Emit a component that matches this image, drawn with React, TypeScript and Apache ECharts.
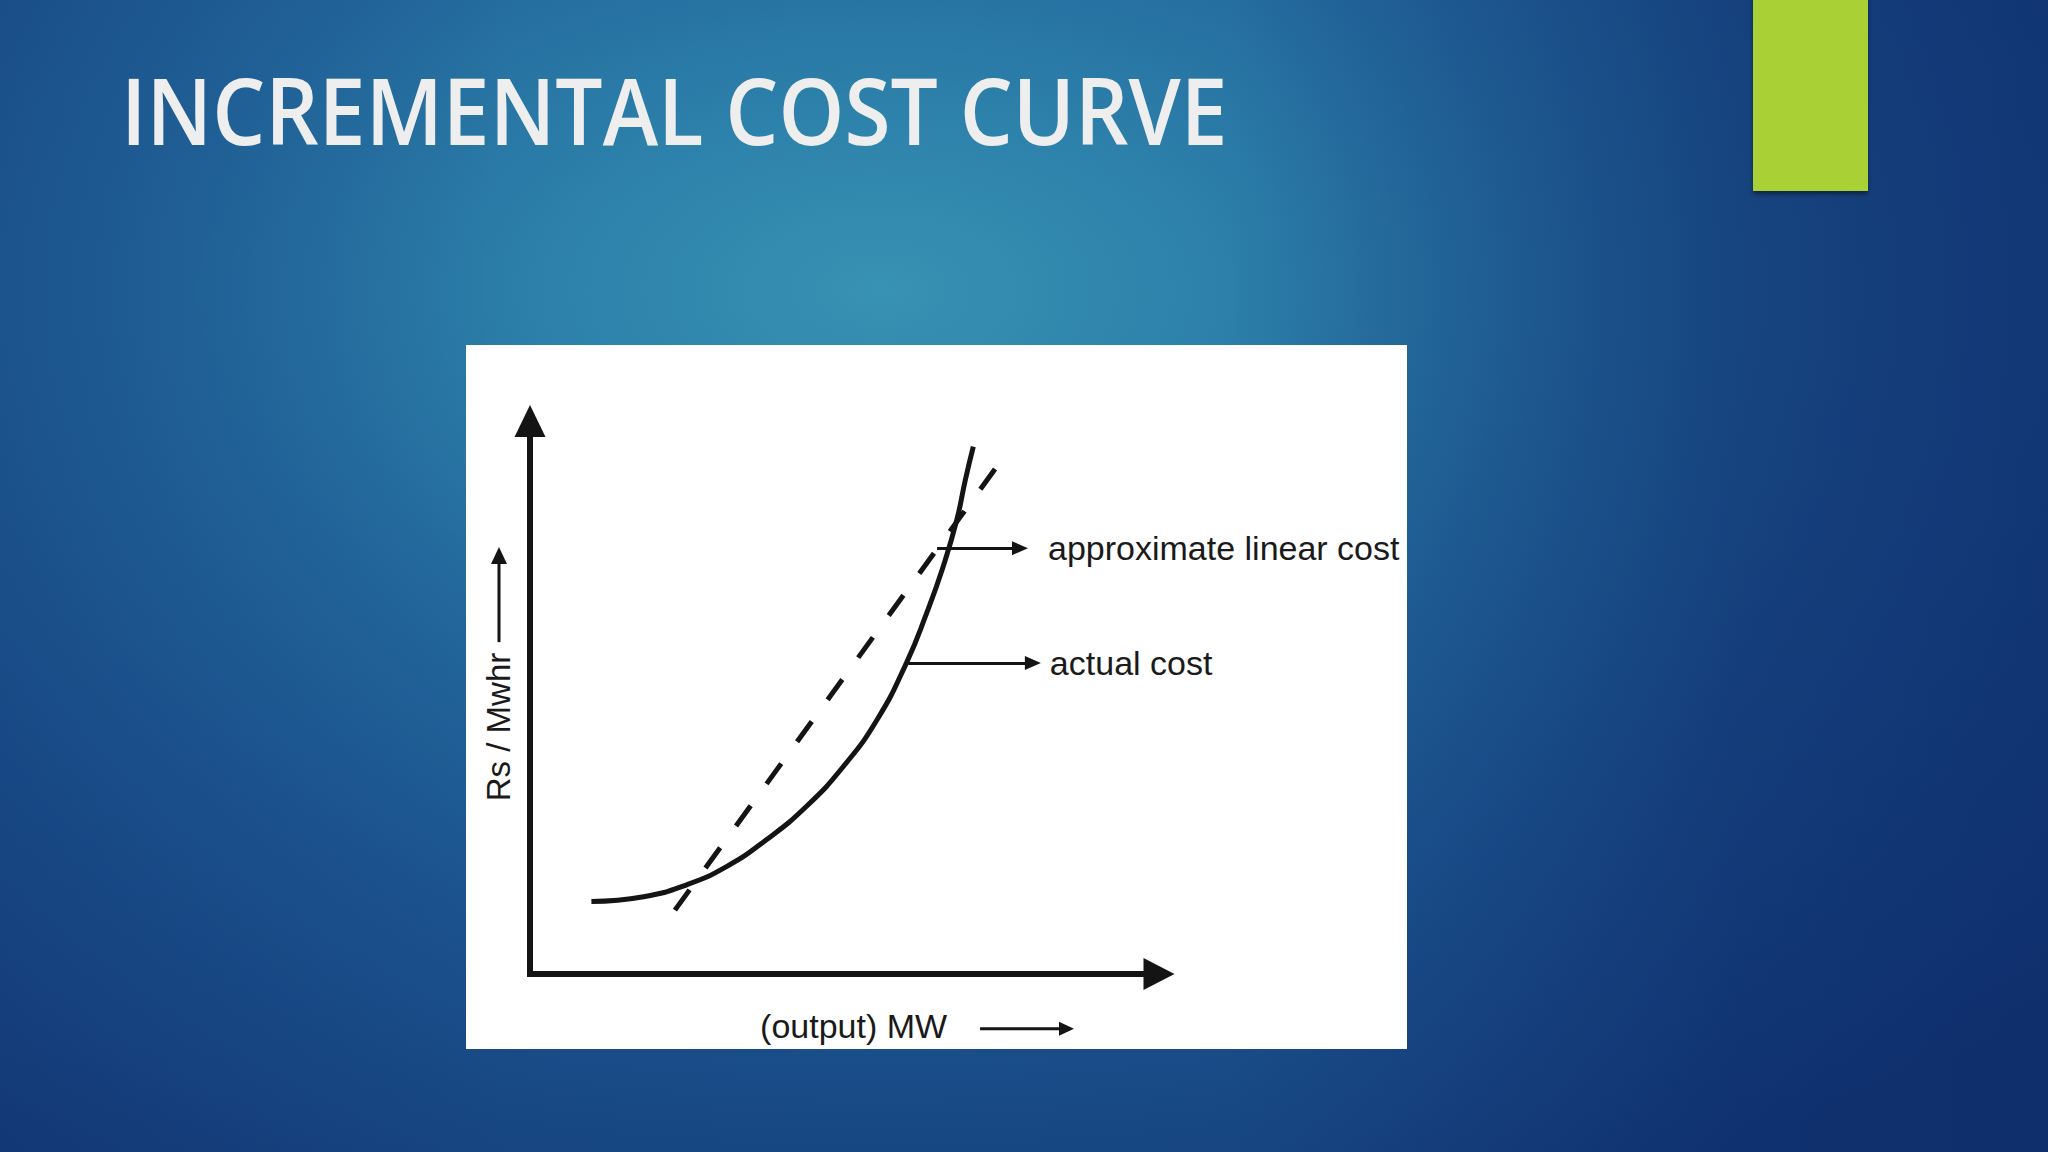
import React, { useEffect, useRef } from "react";
import * as echarts from "echarts";

// ---- data ----
const titleText = "INCREMENTAL COST CURVE";
const actualX = [10, 18.5, 25.5, 32, 38.5, 45, 51, 56.5, 61.3, 64.6, 67.3, 69.5, 70.9, 72.2];
const actualY = [13.5, 14.4, 16.6, 20, 25, 31.2, 38.6, 47.3, 57.9, 67.2, 75.9, 84.5, 92, 98.2];
const linearX = [23.6, 76.8];
const linearY = [11.9, 95.7];
const labelNames = ["approximate linear cost", "actual cost"];
const labelArrowX = [
  [66.3, 79.8],
  [61.6, 81.9],
];
const labelArrowY = [79.3, 57.9];
const yAxisTitle = "Rs / Mwhr";
const xAxisTitle = "(output) MW";

// annotation anchors in data units (outside the plot)
const Y_TITLE_AT = [-5.2, 46.0];
const Y_ARROW_X = -5.05;
const Y_ARROW_Y = [61.8, 79.5];
const X_TITLE_AT = [52.7, -9.7];
const X_ARROW_X = [73.3, 88.6];
const X_ARROW_Y = -10.2;

const INK = "#141414";
const FONT = "'Liberation Sans', Arial, sans-serif";
const TITLE_FONT = "600 92px 'Open Sans', sans-serif";
const TITLE_WIDTH = 1107;

function measure(text: string, font: string): number {
  const c = document.createElement("canvas").getContext("2d");
  if (!c) return TITLE_WIDTH;
  c.font = font;
  return c.measureText(text).width || TITLE_WIDTH;
}

export default function App() {
  const ref = useRef<HTMLDivElement>(null);

  useEffect(() => {
    document.body.style.margin = "0";
    document.body.style.overflow = "hidden";
    const chart = echarts.init(ref.current!, null, { renderer: "svg" });

    const axisCommon = {
      type: "value" as const,
      min: 0,
      max: 100,
      axisTick: { show: false },
      axisLabel: { show: false },
      splitLine: { show: false },
    };

    const titleScale = TITLE_WIDTH / measure(titleText, TITLE_FONT);

    const bg = [
      {
        type: "rect",
        z: -10,
        silent: true,
        shape: { x: 0, y: 0, width: 2048 / 1.4, height: 1152 },
        scaleX: 1.4,
        style: {
          fill: new echarts.graphic.RadialGradient(0.43, 0.252, 0.85, [
            { offset: 0, color: "#3892b3" },
            { offset: 0.18, color: "#2d82ab" },
            { offset: 0.4, color: "#23699d" },
            { offset: 0.65, color: "#1c5590" },
            { offset: 0.9, color: "#174682" },
            { offset: 1, color: "#143e7a" },
          ]),
        },
      },
      {
        type: "rect",
        z: -9,
        silent: true,
        shape: { x: 0, y: 0, width: 2048, height: 1152 },
        style: {
          fill: new echarts.graphic.LinearGradient(0, 0, 1, 0, [
            { offset: 0, color: "rgba(12,36,100,0.22)" },
            { offset: 0.25, color: "rgba(12,36,100,0)" },
            { offset: 0.6, color: "rgba(12,36,100,0)" },
            { offset: 0.85, color: "rgba(10,32,96,0.45)" },
            { offset: 1, color: "rgba(10,32,96,0.55)" },
          ]),
        },
      },
      {
        type: "rect",
        z: -8,
        silent: true,
        shape: { x: 1753, y: -4, width: 115, height: 195 },
        style: {
          fill: "#a9d136",
          shadowColor: "rgba(0,0,0,0.45)",
          shadowBlur: 4,
          shadowOffsetY: 3,
        },
      },
      {
        type: "text",
        z: -8,
        silent: true,
        x: 121,
        y: 109,
        scaleX: titleScale,
        style: {
          text: titleText,
          fill: "#eeeeee",
          font: TITLE_FONT,
          align: "left",
          verticalAlign: "middle",
        },
      },
      {
        type: "rect",
        z: -7,
        silent: true,
        shape: { x: 466, y: 345, width: 941, height: 704 },
        style: { fill: "#ffffff" },
      },
    ];

    const mk = (i: number) => ({
      silent: true,
      symbol: ["none", "triangle"],
      symbolSize: [14, 16],
      lineStyle: { color: INK, width: 3, type: "solid" },
      label: {
        show: true,
        position: "end",
        formatter: labelNames[i],
        color: "#1a1a1a",
        fontSize: 34,
        fontFamily: FONT,
        distance: i === 0 ? 28 : 17,
        padding: [0, 0, 5, 0],
      },
      emphasis: { disabled: true },
      data: [
        [
          { coord: [labelArrowX[i][0], labelArrowY[i]] },
          { coord: [labelArrowX[i][1], labelArrowY[i]] },
        ],
      ],
    });

    chart.setOption({
      animation: false,
      graphic: bg,
      grid: { left: 530, right: 2048 - 1144, top: 437, bottom: 1152 - 974 },
      xAxis: {
        ...axisCommon,
        axisLine: {
          show: true,
          symbol: ["none", "triangle"],
          symbolSize: [32, 31],
          symbolOffset: [0, 15],
          lineStyle: { color: INK, width: 6, cap: "square" },
        },
      },
      yAxis: {
        ...axisCommon,
        axisLine: {
          show: true,
          symbol: ["none", "triangle"],
          symbolSize: [31, 32],
          symbolOffset: [0, 16],
          lineStyle: { color: INK, width: 6, cap: "square" },
        },
      },
      series: [
        {
          name: "actual cost",
          type: "line",
          data: actualX.map((x, i) => [x, actualY[i]]),
          smooth: 0.5,
          symbol: "none",
          lineStyle: { color: INK, width: 5 },
          markLine: mk(1),
        },
        {
          name: "approximate linear cost",
          type: "line",
          data: linearX.map((x, i) => [x, linearY[i]]),
          symbol: "none",
          lineStyle: { color: INK, width: 5, type: [25, 27] },
          markLine: mk(0),
        },
      ],
    });

    const px = (p: number[]) => chart.convertToPixel({ gridIndex: 0 }, p) as number[];
    const yt = px(Y_TITLE_AT);
    const ya0 = px([Y_ARROW_X, Y_ARROW_Y[0]]);
    const ya1 = px([Y_ARROW_X, Y_ARROW_Y[1]]);
    const xt = px(X_TITLE_AT);
    const xa0 = px([X_ARROW_X[0], X_ARROW_Y]);
    const xa1 = px([X_ARROW_X[1], X_ARROW_Y]);

    chart.setOption({
      graphic: [
        ...bg,
        {
          type: "text",
          silent: true,
          x: yt[0],
          y: yt[1],
          rotation: Math.PI / 2,
          style: {
            text: yAxisTitle,
            fill: "#1a1a1a",
            font: `normal 33px ${FONT}`,
            align: "center",
            verticalAlign: "middle",
          },
        },
        {
          type: "line",
          silent: true,
          shape: { x1: ya0[0], y1: ya0[1], x2: ya1[0], y2: ya1[1] + 12 },
          style: { stroke: INK, lineWidth: 3 },
        },
        {
          type: "polygon",
          silent: true,
          shape: {
            points: [
              [ya1[0], ya1[1]],
              [ya1[0] - 8, ya1[1] + 17],
              [ya1[0] + 8, ya1[1] + 17],
            ],
          },
          style: { fill: INK },
        },
        {
          type: "text",
          silent: true,
          x: xt[0],
          y: xt[1],
          style: {
            text: xAxisTitle,
            fill: "#1a1a1a",
            font: `normal 34px ${FONT}`,
            align: "center",
            verticalAlign: "middle",
          },
        },
        {
          type: "line",
          silent: true,
          shape: { x1: xa0[0], y1: xa0[1], x2: xa1[0] - 10, y2: xa1[1] },
          style: { stroke: INK, lineWidth: 3 },
        },
        {
          type: "polygon",
          silent: true,
          shape: {
            points: [
              [xa1[0], xa1[1]],
              [xa1[0] - 15, xa1[1] - 7],
              [xa1[0] - 15, xa1[1] + 7],
            ],
          },
          style: { fill: INK },
        },
      ],
    });

    return () => chart.dispose();
  }, []);

  return (
    <div
      ref={ref}
      style={{ position: "absolute", left: 0, top: 0, width: 2048, height: 1152 }}
    />
  );
}
